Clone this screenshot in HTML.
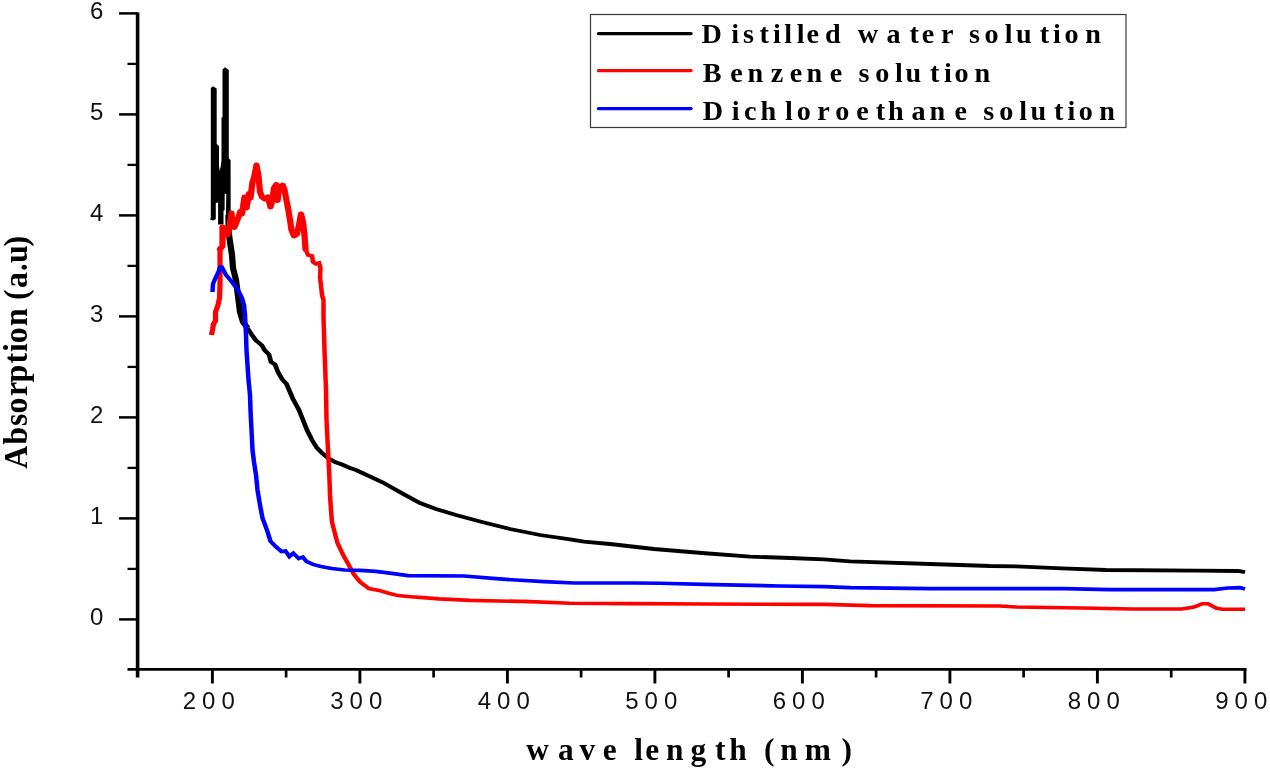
<!DOCTYPE html>
<html lang="en">
<head>
<meta charset="utf-8">
<title>Absorption spectra</title>
<style>
html,body{margin:0;padding:0;background:#fff;}
body{width:1270px;height:771px;overflow:hidden;position:relative;}
svg{display:block;position:absolute;left:0;top:0;}
.tick{font-family:"Liberation Sans",Arial,sans-serif;font-size:24px;fill:#111;}
.xt{letter-spacing:6px;text-anchor:middle;}
.yt{text-anchor:end;}
.lab{font-family:"Liberation Serif","Times New Roman",serif;font-weight:bold;fill:#000;}
</style>
</head>
<body>
<svg width="1270" height="771" viewBox="0 0 1270 771">
<rect x="0" y="0" width="1270" height="771" fill="#ffffff"/>

<g stroke="#000" fill="none" stroke-linecap="butt">
<line x1="137.6" y1="12.4" x2="137.6" y2="677.5" stroke-width="3.6"/>
<line x1="127.5" y1="669.4" x2="1246.6" y2="669.4" stroke-width="2.7"/>
<line x1="119" y1="619.4" x2="137.6" y2="619.4" stroke-width="2.5"/>
<line x1="127.5" y1="568.9" x2="137.6" y2="568.9" stroke-width="2.3"/>
<line x1="119" y1="518.4" x2="137.6" y2="518.4" stroke-width="2.5"/>
<line x1="127.5" y1="467.9" x2="137.6" y2="467.9" stroke-width="2.3"/>
<line x1="119" y1="417.4" x2="137.6" y2="417.4" stroke-width="2.5"/>
<line x1="127.5" y1="366.9" x2="137.6" y2="366.9" stroke-width="2.3"/>
<line x1="119" y1="316.4" x2="137.6" y2="316.4" stroke-width="2.5"/>
<line x1="127.5" y1="265.9" x2="137.6" y2="265.9" stroke-width="2.3"/>
<line x1="119" y1="215.4" x2="137.6" y2="215.4" stroke-width="2.5"/>
<line x1="127.5" y1="164.9" x2="137.6" y2="164.9" stroke-width="2.3"/>
<line x1="119" y1="114.4" x2="137.6" y2="114.4" stroke-width="2.5"/>
<line x1="127.5" y1="63.9" x2="137.6" y2="63.9" stroke-width="2.3"/>
<line x1="119" y1="13.4" x2="137.6" y2="13.4" stroke-width="2.5"/>
<line x1="212.4" y1="669.4" x2="212.4" y2="683.5" stroke-width="2.9"/>
<line x1="286.1" y1="669.4" x2="286.1" y2="677.5" stroke-width="2.7"/>
<line x1="359.9" y1="669.4" x2="359.9" y2="683.5" stroke-width="2.9"/>
<line x1="433.6" y1="669.4" x2="433.6" y2="677.5" stroke-width="2.7"/>
<line x1="507.4" y1="669.4" x2="507.4" y2="683.5" stroke-width="2.9"/>
<line x1="581.1" y1="669.4" x2="581.1" y2="677.5" stroke-width="2.7"/>
<line x1="654.9" y1="669.4" x2="654.9" y2="683.5" stroke-width="2.9"/>
<line x1="728.6" y1="669.4" x2="728.6" y2="677.5" stroke-width="2.7"/>
<line x1="802.4" y1="669.4" x2="802.4" y2="683.5" stroke-width="2.9"/>
<line x1="876.1" y1="669.4" x2="876.1" y2="677.5" stroke-width="2.7"/>
<line x1="949.9" y1="669.4" x2="949.9" y2="683.5" stroke-width="2.9"/>
<line x1="1023.6" y1="669.4" x2="1023.6" y2="677.5" stroke-width="2.7"/>
<line x1="1097.4" y1="669.4" x2="1097.4" y2="683.5" stroke-width="2.9"/>
<line x1="1171.2" y1="669.4" x2="1171.2" y2="677.5" stroke-width="2.7"/>
<line x1="1244.9" y1="669.4" x2="1244.9" y2="683.5" stroke-width="2.9"/>
</g>
<g class="tick">
<text class="yt" x="103.3" y="625.3">0</text>
<text class="yt" x="103.3" y="524.3">1</text>
<text class="yt" x="103.3" y="423.3">2</text>
<text class="yt" x="103.3" y="322.3">3</text>
<text class="yt" x="103.3" y="221.3">4</text>
<text class="yt" x="103.3" y="120.3">5</text>
<text class="yt" x="103.3" y="19.3">6</text>
<text class="xt" x="211.8" y="709.2">200</text>
<text class="xt" x="359.3" y="709.2">300</text>
<text class="xt" x="506.8" y="709.2">400</text>
<text class="xt" x="654.3" y="709.2">500</text>
<text class="xt" x="801.8" y="709.2">600</text>
<text class="xt" x="949.3" y="709.2">700</text>
<text class="xt" x="1096.8" y="709.2">800</text>
<text class="xt" x="1244.3" y="709.2">900</text>
</g>
<g fill="none" stroke-linejoin="miter" stroke-linecap="butt" transform="scale(1.25,1)">
</g>
<polygon fill="#000" points="210.8,88.0 213.0,86.2 216.7,88.5 216.7,144.0 219.0,146.0 219.0,166.0 219.8,171.0 220.8,166.0 221.5,160.0 221.5,117.5 222.5,117.5 222.5,69.5 225.0,67.2 228.8,70.0 228.8,158.5 230.6,160.0 230.7,232.0 226.0,232.0 226.0,210.0 226.3,194.0 224.7,194.0 224.6,210.0 223.5,211.0 223.5,224.5 218.1,224.5 218.1,202.7 215.8,202.7 215.8,219.0 213.3,220.5 210.2,219.8 210.8,217.0"/>
<g fill="none" stroke-linejoin="miter" stroke-linecap="butt" transform="scale(1.25,1)">
<polyline stroke="#000000" stroke-width="5" stroke-linejoin="round" points="182.80,215.0 182.88,232.0 184.40,245.0 185.60,255.0 186.40,268.0 188.80,280.0 190.00,292.0 190.80,300.0 192.00,312.0 194.40,322.0 198.00,328.0"/>
<polyline stroke="#000000" stroke-width="3.8" points="198.00,328.0 201.60,335.0 204.80,340.5 206.80,342.5 209.60,345.5 211.60,350.0 215.20,354.5 216.80,362.0 220.00,364.5 222.40,372.0 225.60,379.0 229.20,384.0 232.00,392.0 234.40,399.0 239.20,410.0 242.40,420.0 245.60,430.0 249.60,440.0 253.60,448.0 257.60,453.0 262.40,458.0 268.00,462.0 273.60,464.5 280.00,468.0 284.80,470.0 305.60,482.0 323.20,494.4 336.00,503.0 348.80,509.0 364.80,515.0 385.60,522.0 408.00,529.0 432.00,535.0 456.00,539.4 467.20,541.6 488.00,544.0 523.20,549.0 561.60,553.0 600.00,556.6 632.00,558.0 659.20,559.4 680.00,561.4 744.00,564.0 792.00,566.0 812.80,566.4 849.60,568.4 884.80,570.0 956.80,570.6 990.40,571.0 996.00,572.2"/>
<polyline stroke="#ff0000" stroke-width="4.2" points="169.20,335.0 170.00,330.0 170.80,324.0 172.40,321.0 172.40,312.0 174.40,305.0 175.60,298.0 176.00,285.0 176.00,265.0 176.00,249.0"/>
<polyline stroke="#ff0000" stroke-width="3.6" points="244.40,249.0 246.40,255.0 249.60,256.0 250.40,262.0 252.80,264.0 255.20,263.0 256.40,268.0 256.00,278.0 256.80,285.0 257.60,295.0 258.80,300.0 258.80,317.0 259.60,350.0 260.80,390.0 261.20,420.0 262.00,440.0 262.80,460.0 263.60,480.0 264.00,495.0 264.80,510.0 265.60,522.0 267.44,531.0 269.92,542.8 274.32,554.6 279.36,565.7 283.12,574.3 288.16,582.2 295.12,588.5 303.28,590.4 310.88,593.2 318.40,595.6 328.48,596.7 338.56,597.6 351.20,598.9 360.00,599.4 376.00,600.4 424.00,601.6 456.00,603.2 507.20,603.6 561.60,604.0 659.20,604.4 696.00,605.6 800.00,606.0 812.80,607.0 865.60,608.0 905.60,609.0 945.60,609.0 955.20,607.0 961.60,603.8 966.40,603.8 972.80,608.0 977.60,609.2 996.00,609.2"/>
<polyline stroke="#ff0000" stroke-width="5" stroke-linejoin="round" stroke-linecap="round" points="176.00,249.0 178.00,246.0 178.00,227.0 179.20,234.5 180.80,229.0 182.00,234.7 183.44,229.0 184.40,220.0 185.20,213.0 186.08,227.0 187.44,227.5 189.20,222.0 190.80,217.0 192.24,211.5 193.60,214.0 195.60,197.0 197.20,208.0 199.20,193.5 200.40,198.0 202.00,182.0 203.20,178.0 205.20,165.0 206.80,176.0 208.00,192.0 209.60,197.0 212.00,199.0 214.40,197.0 216.40,207.0 218.00,200.0 219.20,188.0 221.04,184.5 222.08,200.5 223.44,186.5 224.80,188.0 226.24,185.2 227.60,190.0 228.80,198.0 230.40,208.0 232.00,220.0 233.20,230.0 235.20,236.0 237.60,234.0 239.20,225.0 240.80,214.0 242.40,222.0 243.60,235.0 244.40,249.0"/>
<polyline stroke="#0000ff" stroke-width="3.6" points="170.00,292.0 170.40,284.0 172.00,279.0 174.40,273.0 176.24,267.0 177.44,267.0 180.80,275.0 185.60,282.0 188.00,286.0 191.20,292.0 193.60,298.0 195.20,305.0 196.00,315.0 196.40,325.0 196.80,335.0 197.20,350.0 198.00,365.0 198.80,380.0 200.00,395.0 200.40,410.0 201.20,430.0 202.00,450.0 203.20,462.0 204.80,475.0 206.00,490.0 208.00,505.0 210.00,518.0 211.36,522.6 213.84,531.0 216.40,541.3 220.80,546.8 225.20,551.5 228.32,550.9 231.52,556.5 234.64,553.2 239.04,558.6 242.24,557.0 245.36,561.7 250.40,564.4 256.72,566.5 265.52,568.5 275.60,570.0 288.16,570.4 300.80,571.4 313.36,573.4 326.40,575.6 371.20,576.0 396.80,578.6 412.80,580.0 435.20,581.6 459.20,583.0 507.20,583.0 528.00,583.2 571.20,584.6 624.00,586.0 659.20,586.6 680.00,587.6 744.00,588.6 851.20,588.6 888.00,589.6 971.20,589.6 982.40,588.0 992.00,587.6 996.00,589.0"/>
</g>
<rect x="590.5" y="14.5" width="535.5" height="113" fill="#fff" stroke="#3a3a3a" stroke-width="1.2"/>
<g stroke-width="3.4" stroke-linecap="round">
<line x1="598.5" y1="33.6" x2="691" y2="33.6" stroke="#000"/>
<line x1="598.5" y1="70.6" x2="691" y2="70.6" stroke="#ff0000"/>
<line x1="598.5" y1="108.6" x2="691" y2="108.6" stroke="#0000ff"/>
</g>
<text id="L1" class="lab" font-size="26.6px" y="43.4" x="661.8 689.9 701.0 716.6 729.3 739.9 751.7 760.9 778.3 795.1 809.3 836.3 858.1 869.5 887.8 901.6 914.1 928.8 947.8 958.6 980.8 993.5 1004.2 1023.8" transform="scale(1.06,1)">Distilled water solution</text>
<text id="L2" class="lab" font-size="26.6px" y="81.6" x="663.0 689.0 705.1 727.1 745.0 760.8 782.9 796.7 809.9 825.7 844.3 854.3 877.3 890.5 900.5 919.4" transform="scale(1.06,1)">Benzene solution</text>
<text id="L3" class="lab" font-size="26.6px" y="120.1" x="663.0 690.4 701.9 717.5 740.5 751.6 770.9 787.9 807.9 826.1 837.7 859.8 877.0 900.6 914.4 927.5 942.7 961.5 972.1 994.4 1007.2 1017.6 1037.1" transform="scale(1.06,1)">Dichloroethane solution</text>
<text id="XL" class="lab" font-size="30.5px" y="760.5" x="511.0 541.7 562.6 585.3 600.8 615.9 626.5 646.7 670.4 694.3 708.0 726.9 741.8 757.6 781.3 817.1" transform="scale(1.03,1)">wave length (nm)</text>
<text id="YL" class="lab" font-size="31.8px" y="0" x="0.2 24.2 43.0 55.6 72.9 86.5 105.4 117.1 125.7 143.0 162.7 169.0 181.1 197.7 206.1 222.6" transform="translate(27.1,469) rotate(-90) scale(1,1.09)">Absorption (a.u)</text>
</svg>
</body>
</html>
